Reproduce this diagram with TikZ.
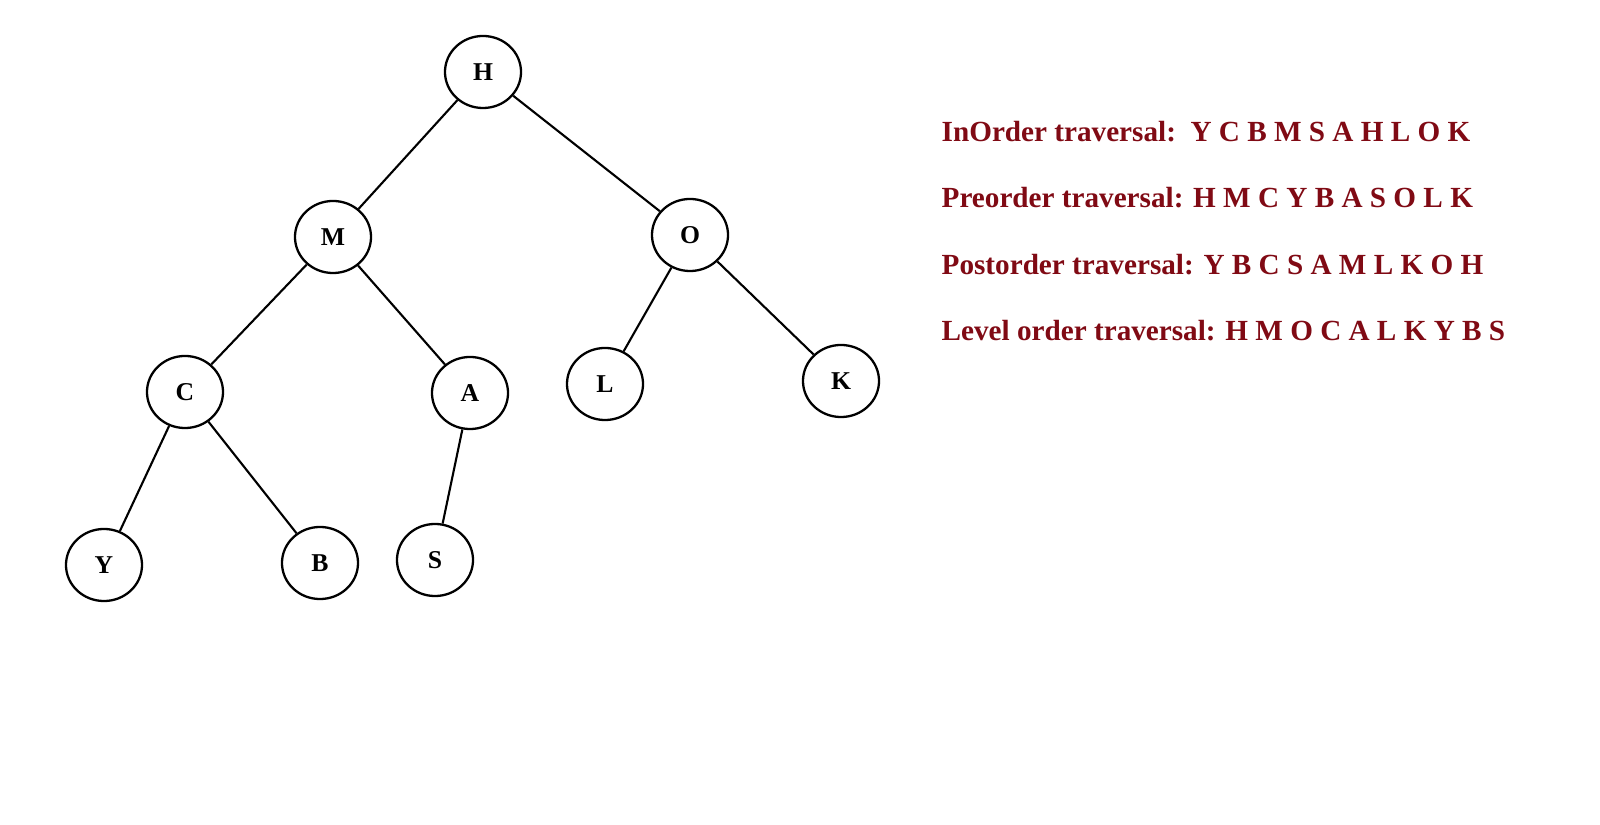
\documentclass[tikz,border=0pt]{standalone}
\usepackage{fontspec}
\setmainfont{Liberation Serif}
\usetikzlibrary{shapes.geometric}
\definecolor{trav}{RGB}{128,10,20}
\begin{document}
\begin{tikzpicture}[x=0.01cm,y=-0.01cm,
  tnode/.style={draw,ellipse,line width=0.65pt,inner sep=0pt,minimum width=0.76cm,minimum height=0.72cm,font=\fontsize{7.3}{8}\selectfont\bfseries},
  edge/.style={line width=0.6pt},
  trline/.style={anchor=base west,text=trav,inner sep=0pt,font=\fontsize{8.3}{10}\selectfont\bfseries}]
\useasboundingbox (0,0) rectangle (1600,825);
\node[tnode] (H) at (483,72) {H};
\node[tnode] (M) at (333,237) {M};
\node[tnode] (O) at (690,235) {O};
\node[tnode] (C) at (185,392) {C};
\node[tnode] (A) at (470,393) {A};
\node[tnode] (L) at (605,384) {L};
\node[tnode] (K) at (841,381) {K};
\node[tnode] (Y) at (104,565) {Y};
\node[tnode] (B) at (320,563) {B};
\node[tnode] (S) at (435,560) {S};
\draw[edge] (H) -- (M);
\draw[edge] (H) -- (O);
\draw[edge] (M) -- (C);
\draw[edge] (M) -- (A);
\draw[edge] (O) -- (L);
\draw[edge] (O) -- (K);
\draw[edge] (C) -- (Y);
\draw[edge] (C) -- (B);
\draw[edge] (A) -- (S);
\node[trline] (t1) at (941,142) {InOrder traversal:\ \ Y C B M S A H L O K};
\node[trline] (t2) at (941,208) {Preorder traversal: H M C Y B A S O L K};
\node[trline] (t3) at (941,275) {Postorder traversal: Y B C S A M L K O H};
\node[trline] (t4) at (941,341) {Level order traversal: H M O C A L K Y B S};
\end{tikzpicture}
\end{document}
